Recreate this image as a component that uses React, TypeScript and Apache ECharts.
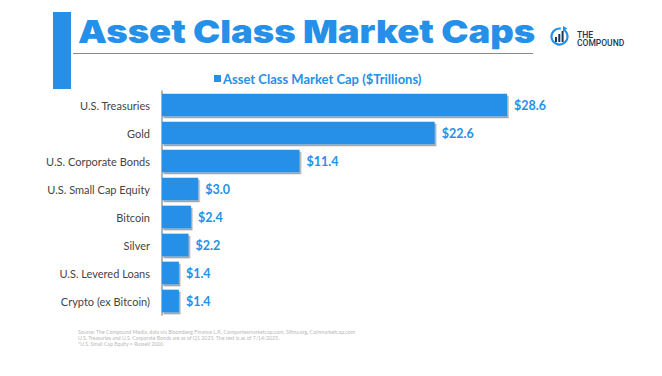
import React, { useEffect, useRef } from "react";
import * as echarts from "echarts";

const categories = [
  "U.S. Treasuries",
  "Gold",
  "U.S. Corporate Bonds",
  "U.S. Small Cap Equity",
  "Bitcoin",
  "Silver",
  "U.S. Levered Loans",
  "Crypto (ex Bitcoin)",
];
const values = [28.6, 22.6, 11.4, 3.0, 2.4, 2.2, 1.4, 1.4];
const seriesName = "Asset Class Market Cap ($Trillions)";
const titleText = "Asset Class Market Caps";
const sourceLines = [
  "Source: The Compound Media, data via Bloomberg Finance L.P., Companiesmarketcap.com, Sifma.org, Coinmarketcap.com",
  "U.S. Treasuries and U.S. Corporate Bonds are as of Q1 2025. The rest is as of 7/14/2025.",
  "*U.S. Small Cap Equity = Russell 2000",
];

const BLUE = "#2690E8";
const NAVY = "#1D3557";

export default function App() {
  const ref = useRef<HTMLDivElement>(null);
  useEffect(() => {
    if (!ref.current) return;
    const chart = echarts.init(ref.current, undefined, { renderer: "svg" });
    chart.setOption({
      animation: false,
      backgroundColor: "#ffffff",
      legend: {
        show: true,
        left: 209,
        top: 67,
        icon: "rect",
        itemWidth: 7,
        itemHeight: 7,
        textStyle: {
          color: BLUE,
          fontFamily: "Lato",
          fontWeight: "bold",
          fontSize: 13,
          padding: [0, 0, 0, -3],
        },
        data: [seriesName],
      },
      grid: {
        left: 162,
        top: 91,
        width: 362,
        height: 224,
        containLabel: false,
      },
      xAxis: {
        type: "value",
        min: 0,
        max: 30,
        show: false,
      },
      yAxis: {
        type: "category",
        inverse: true,
        data: categories,
        axisLine: { show: true, lineStyle: { color: "#9a9a9a", width: 1.5 } },
        axisTick: { show: false },
        axisLabel: {
          margin: 12,
          color: "#444444",
          fontFamily: "Lato",
          fontSize: 11,
        },
        splitLine: { show: false },
      },
      series: [
        {
          name: seriesName,
          type: "bar",
          data: values,
          barCategoryGap: "19%",
          itemStyle: {
            color: BLUE,
            shadowColor: "rgba(0,0,0,0.35)",
            shadowOffsetX: 1.5,
            shadowOffsetY: 2,
            shadowBlur: 1,
          },
          label: {
            show: true,
            position: "right",
            distance: 7,
            color: BLUE,
            fontFamily: "Lato",
            fontWeight: "bold",
            fontSize: 12.5,
            formatter: (p: any) => "$" + Number(p.value).toFixed(1),
          },
        },
      ],
      graphic: [
        {
          type: "rect",
          shape: { x: 53, y: 12, width: 18, height: 77 },
          style: { fill: BLUE },
        },
        {
          type: "text",
          x: 78,
          y: 15,
          scaleX: 1.14,
          style: {
            text: titleText,
            fill: BLUE,
            font: "900 32px Inter",
          },
        },
        {
          type: "line",
          shape: { x1: 73, y1: 53.5, x2: 533, y2: 53.5 },
          style: { stroke: "#8a8a8a", lineWidth: 1.2 },
        },
        // logo icon
        {
          type: "arc",
          shape: { cx: 559.5, cy: 36.5, r: 8, startAngle: -Math.PI * 0.35, endAngle: Math.PI * 1.55 },
          style: { stroke: BLUE, lineWidth: 2.2, fill: "none" },
        },
        {
          type: "polygon",
          shape: { points: [[563, 26], [567.5, 28.5], [563, 31]] },
          style: { fill: BLUE },
        },
        {
          type: "rect",
          shape: { x: 555, y: 37, width: 2, height: 5 },
          style: { fill: NAVY },
        },
        {
          type: "rect",
          shape: { x: 558.3, y: 34, width: 2, height: 8 },
          style: { fill: NAVY },
        },
        {
          type: "rect",
          shape: { x: 561.6, y: 31, width: 2, height: 11 },
          style: { fill: NAVY },
        },
        {
          type: "text",
          x: 577,
          y: 30,
          style: { text: "THE", fill: NAVY, font: "500 8.5px Roboto" },
        },
        {
          type: "text",
          x: 577,
          y: 38.5,
          style: { text: "COMPOUND", fill: NAVY, font: "500 8.5px Roboto" },
        },
        ...sourceLines.map((t, i) => ({
          type: "text",
          x: 78,
          y: 329 + i * 6,
          style: { text: t, fill: "#b8b8b8", font: "5.2px Lato" },
        })),
      ],
    });
    return () => chart.dispose();
  }, []);
  return (
    <div
      ref={ref}
      style={{ position: "fixed", left: 0, top: 0, width: 662, height: 376 }}
    />
  );
}
